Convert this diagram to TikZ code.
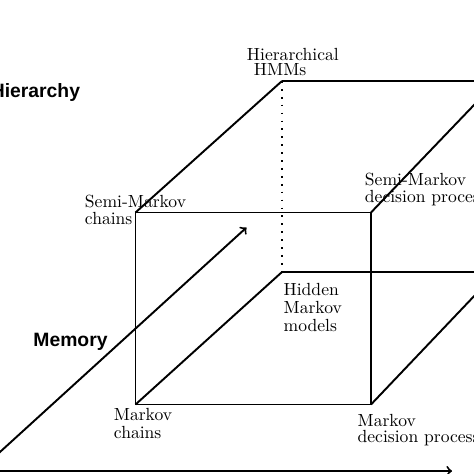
\documentclass[tikz,border=0pt]{standalone}
\usepackage{fontspec}
\newfontfamily\axisfont{Liberation Sans}
\begin{document}
\begin{tikzpicture}[x=0.02cm, y=-0.02cm, line width=1.1pt,
    every node/.style={inner sep=0pt},
    corner/.style={align=left, anchor=north west, font=\fontsize{10}{10.2}\selectfont},
    axis/.style={font=\axisfont\bfseries\fontsize{11}{13}\selectfont}]
    \useasboundingbox (0,0) rectangle (474,474);
    \clip (0,0) rectangle (474,474);

    % Front face corners
    \coordinate (ftl) at (135.5,212.5);
    \coordinate (ftr) at (371,212.5);
    \coordinate (fbl) at (135.5,404.5);
    \coordinate (fbr) at (371,404.5);
    % Back face corners
    \coordinate (btl) at (282,81);
    \coordinate (btr) at (497,81);
    \coordinate (bbl) at (282,272);
    \coordinate (bbr) at (497,272);
    % Axis ends
    \coordinate (memstart) at (-20,470.2);
    \coordinate (memend) at (246.5,227.5);
    \coordinate (hstart) at (-10,471);
    \coordinate (hend) at (452,471);

    % Cube
    \draw (ftl) rectangle (fbr);
    \draw (btl) -- (btr) -- (bbr) -- (bbl);
    \draw[dash pattern=on 1pt off 3.5pt] (btl) -- (bbl);
    \draw (ftl) -- (btl);
    \draw (ftr) -- (btr);
    \draw (fbl) -- (bbl);
    \draw (fbr) -- (bbr);

    % Axes
    \draw[->] (memstart) -- (memend);
    \draw[->] (hstart) -- (hend);
    \node[axis, anchor=base east] (hier) at (81,97) {Hierarchy};
    \node[axis, anchor=base west] (mem) at (32.5,346) {Memory};

    % Models
    \node[corner] (hhmm) at (246,47) {Hierarchical\\[-1.5pt]\hspace*{4pt}HMMs};
    \node[corner] (smc) at (84,193.7) {Semi-Markov\\chains};
    \node[corner] (smdp) at (364,171.7) {Semi-Markov\\decision processes};
    \node[corner] (hmm) at (282.7,282.7) {Hidden\\Markov\\models};
    \node[corner] (mc) at (113,407.7) {Markov\\chains};
    \node[corner] (mdp) at (356.7,413.7) {Markov\\[-1.3pt]decision processes};
\end{tikzpicture}
\end{document}
